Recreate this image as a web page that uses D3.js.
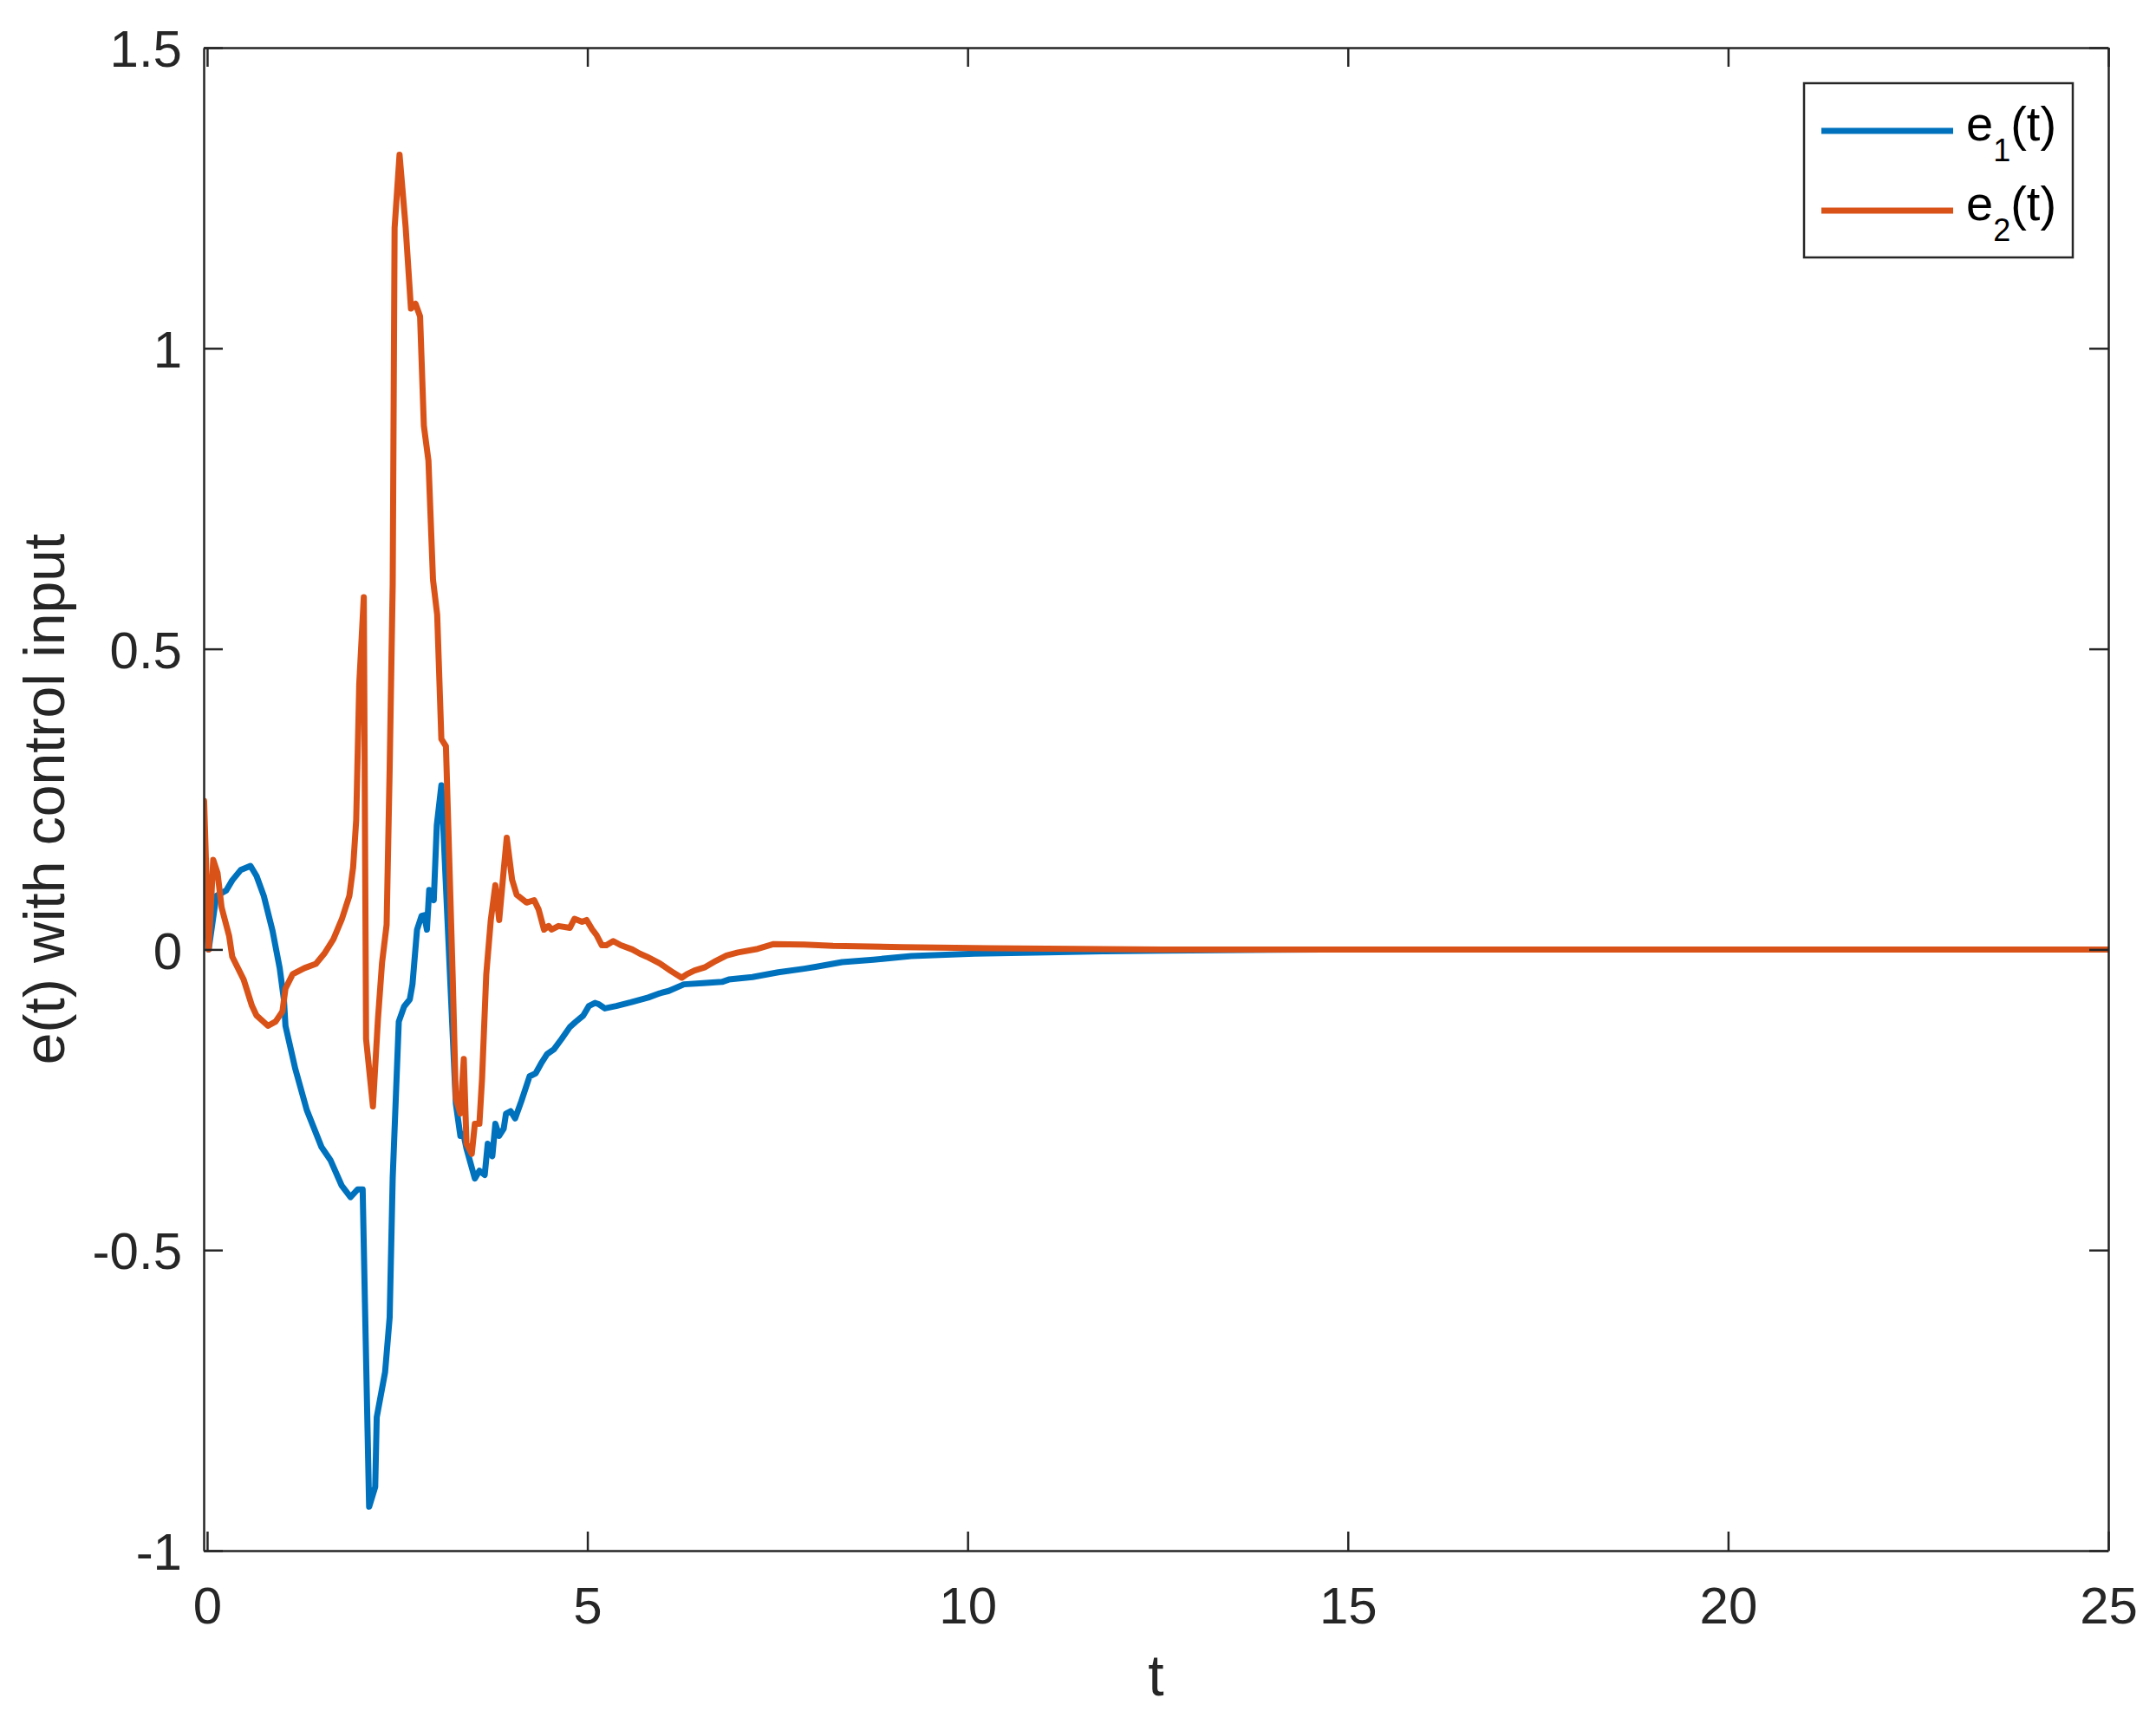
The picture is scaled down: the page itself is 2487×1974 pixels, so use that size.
<!DOCTYPE html>
<html>
<head>
<meta charset="utf-8">
<script src="https://cdn.jsdelivr.net/npm/d3@7"></script>
<style>
  body { margin: 0; background: #fff; }
  svg { display: block; font-family: "Liberation Sans", Arial, Helvetica, sans-serif; }
</style>
</head>
<body>
<div id="chart"></div>
<script>
// e1(t) samples
var t1 = [-0.04, 0.02, 0.12, 0.25, 0.33, 0.44, 0.57, 0.65, 0.745, 0.86, 0.954, 1.01, 1.03, 1.16, 1.31, 1.505, 1.62, 1.77, 1.885, 1.98, 2.045, 2.075, 2.13, 2.21, 2.23, 2.34, 2.40, 2.44, 2.52, 2.59, 2.665, 2.70, 2.76, 2.82, 2.855, 2.89, 2.92, 2.98, 3.02, 3.08, 3.27, 3.33, 3.37, 3.41, 3.52, 3.58, 3.65, 3.69, 3.75, 3.79, 3.84, 3.90, 3.93, 3.99, 4.05, 4.13, 4.24, 4.32, 4.39, 4.47, 4.56, 4.66, 4.77, 4.85, 4.945, 5.02, 5.10, 5.15, 5.23, 5.38, 5.57, 5.80, 5.95, 6.07, 6.27, 6.52, 6.77, 6.86, 7.17, 7.51, 7.85, 8.0, 8.35, 8.76, 9.26, 10.09, 11.05, 11.8, 12.57, 14, 15, 20, 25];
var e1 = [0.091, 0.0, 0.089, 0.098, 0.115, 0.132, 0.139, 0.122, 0.089, 0.031, -0.031, -0.084, -0.127, -0.199, -0.267, -0.329, -0.350, -0.393, -0.412, -0.399, -0.399, -0.588, -0.927, -0.894, -0.778, -0.703, -0.612, -0.380, -0.120, -0.095, -0.083, -0.058, 0.033, 0.056, 0.057, 0.033, 0.099, 0.082, 0.207, 0.273, -0.256, -0.310, -0.307, -0.331, -0.381, -0.368, -0.375, -0.323, -0.344, -0.290, -0.310, -0.298, -0.273, -0.269, -0.281, -0.253, -0.211, -0.206, -0.190, -0.174, -0.166, -0.149, -0.129, -0.120, -0.110, -0.094, -0.089, -0.091, -0.098, -0.094, -0.088, -0.080, -0.073, -0.069, -0.058, -0.056, -0.054, -0.050, -0.046, -0.038, -0.032, -0.029, -0.021, -0.017, -0.011, -0.007, -0.005, -0.003, -0.002, -0.0005, 0, 0, 0];

// e2(t) samples
var t2 = [-0.04, 0.02, 0.08, 0.137, 0.19, 0.29, 0.33, 0.48, 0.59, 0.65, 0.80, 0.90, 0.99, 1.03, 1.125, 1.28, 1.43, 1.54, 1.66, 1.77, 1.87, 1.92, 1.96, 2.0, 2.06, 2.09, 2.18, 2.246, 2.30, 2.36, 2.40, 2.44, 2.465, 2.53, 2.61, 2.68, 2.74, 2.80, 2.85, 2.91, 2.97, 3.025, 3.08, 3.14, 3.23, 3.27, 3.33, 3.375, 3.41, 3.48, 3.52, 3.58, 3.615, 3.67, 3.73, 3.79, 3.84, 3.90, 3.94, 4.01, 4.07, 4.20, 4.30, 4.36, 4.43, 4.49, 4.53, 4.62, 4.77, 4.83, 4.93, 4.99, 5.06, 5.12, 5.19, 5.25, 5.34, 5.44, 5.59, 5.69, 5.78, 5.95, 6.10, 6.24, 6.31, 6.41, 6.54, 6.69, 6.83, 6.98, 7.24, 7.45, 7.85, 8.23, 9.14, 10.3, 12.57, 25];
var e2 = [0.247, 0.0, 0.149, 0.127, 0.070, 0.022, -0.012, -0.050, -0.094, -0.110, -0.127, -0.120, -0.103, -0.065, -0.041, -0.031, -0.024, -0.007, 0.017, 0.050, 0.089, 0.137, 0.215, 0.441, 0.586, -0.149, -0.261, -0.116, -0.022, 0.041, 0.30, 0.607, 1.20, 1.322, 1.202, 1.066, 1.074, 1.053, 0.871, 0.813, 0.615, 0.557, 0.350, 0.338, -0.050, -0.248, -0.273, -0.182, -0.323, -0.340, -0.290, -0.290, -0.215, -0.042, 0.049, 0.107, 0.049, 0.132, 0.186, 0.116, 0.091, 0.078, 0.082, 0.066, 0.033, 0.039, 0.033, 0.039, 0.036, 0.051, 0.046, 0.049, 0.034, 0.024, 0.007, 0.007, 0.014, 0.007, 0.0, -0.007, -0.012, -0.023, -0.036, -0.047, -0.041, -0.035, -0.030, -0.019, -0.010, -0.005, 0.001, 0.009, 0.008, 0.006, 0.004, 0.002, 0.0, 0];

var xTicks = [0, 5, 10, 15, 20, 25];
var yTicks = [-1, -0.5, 0, 0.5, 1, 1.5];
var seriesNames = ["1", "2"];
var seriesColors = ["#0072BD", "#D95319"];

(function () {
    var width = 2487,
        height = 1974;
    var left = 235, right = 2432, top = 55, bottom = 1789;
    var axisColor = "#262626";
    var lineW = 7;

    var svg = d3.select("#chart")
        .append("svg")
        .attr("width", width)
        .attr("height", height);

    svg.append("rect").attr("width", width).attr("height", height).attr("fill", "#fff");

    var x = d3.scaleLinear().domain([-0.045, 25]).range([left, right]);
    var y = d3.scaleLinear().domain([-1, 1.5]).range([bottom, top]);

    svg.append("defs").append("clipPath").attr("id", "plotclip")
        .append("rect")
        .attr("x", left).attr("y", top)
        .attr("width", right - left).attr("height", bottom - top);

    var line = d3.line()
        .x(function (d) { return x(d[0]); })
        .y(function (d) { return y(d[1]); });

    var series = [d3.zip(t1, e1), d3.zip(t2, e2)];

    svg.append("g").attr("clip-path", "url(#plotclip)")
        .selectAll("path")
        .data(series)
        .enter().append("path")
        .attr("d", line)
        .attr("fill", "none")
        .attr("stroke", function (d, i) { return seriesColors[i]; })
        .attr("stroke-width", lineW)
        .attr("stroke-linejoin", "round")
        .attr("stroke-linecap", "round");

    var fmt = function (d) { return String(d); };

    function styleAxis(g) {
        g.select(".domain").attr("stroke", axisColor).attr("stroke-width", 2.5);
        g.selectAll(".tick line").attr("stroke", axisColor).attr("stroke-width", 2.5);
        g.selectAll(".tick text")
            .attr("fill", axisColor)
            .style("font-size", "60px")
            .style("font-family", "'Liberation Sans', Arial, Helvetica, sans-serif");
    }

    var gx = svg.append("g")
        .attr("transform", "translate(0," + bottom + ")")
        .call(d3.axisBottom(x).tickValues(xTicks).tickFormat(fmt).tickSize(-22).tickSizeOuter(0))
        .call(styleAxis);
    gx.selectAll(".tick text").attr("y", 84).attr("dy", null);

    svg.append("g")
        .attr("transform", "translate(0," + top + ")")
        .call(d3.axisTop(x).tickValues(xTicks).tickFormat("").tickSize(-22).tickSizeOuter(0))
        .call(styleAxis);

    var gy = svg.append("g")
        .attr("transform", "translate(" + left + ",0)")
        .call(d3.axisLeft(y).tickValues(yTicks).tickFormat(fmt).tickSize(-22).tickSizeOuter(0))
        .call(styleAxis);
    gy.selectAll(".tick text").attr("x", -25).attr("dy", "0.36em");

    svg.append("g")
        .attr("transform", "translate(" + right + ",0)")
        .call(d3.axisRight(y).tickValues(yTicks).tickFormat("").tickSize(-22).tickSizeOuter(0))
        .call(styleAxis);

    // axis labels
    svg.append("text")
        .attr("x", (left + right) / 2)
        .attr("y", 1956)
        .attr("text-anchor", "middle")
        .attr("fill", axisColor)
        .style("font-size", "66px")
        .text("t");

    svg.append("text")
        .attr("transform", "translate(74," + (top + bottom) / 2 + ") rotate(-90)")
        .attr("text-anchor", "middle")
        .attr("fill", axisColor)
        .style("font-size", "66px")
        .text("e(t) with control input");

    // legend
    var legend = svg.append("g");
    legend.append("rect")
        .attr("x", 2081).attr("y", 96)
        .attr("width", 310).attr("height", 201)
        .attr("fill", "#fff")
        .attr("stroke", axisColor)
        .attr("stroke-width", 2.5);

    var items = legend.selectAll(".item")
        .data(seriesNames)
        .enter().append("g")
        .attr("class", "item")
        .attr("transform", function (d, i) { return "translate(0," + (151 + i * 92) + ")"; });

    items.append("line")
        .attr("x1", 2101).attr("x2", 2253)
        .attr("y1", 0).attr("y2", 0)
        .attr("stroke", function (d, i) { return seriesColors[i]; })
        .attr("stroke-width", lineW);

    var txt = items.append("text")
        .attr("x", 2268)
        .attr("y", 11)
        .attr("fill", "#000")
        .style("font-size", "56px");
    txt.append("tspan").text("e");
    txt.append("tspan").attr("dy", 24).style("font-size", "36px").text(function (d) { return d; });
    txt.append("tspan").attr("dy", -24).text("(t)");
})();
</script>
</body>
</html>
